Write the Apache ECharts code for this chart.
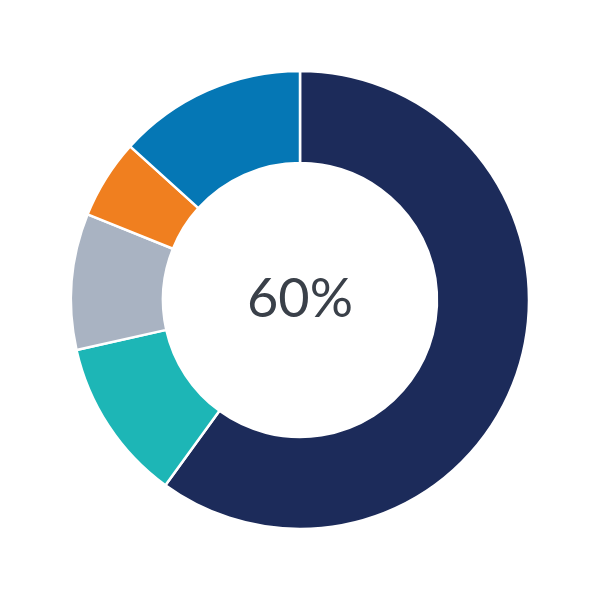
<!DOCTYPE html>
<html><head><meta charset="utf-8">
<script src="https://cdn.jsdelivr.net/npm/echarts@6/dist/echarts.min.js"></script>
<style>html,body{margin:0;padding:0;background:#fff}#c{width:600px;height:600px}</style>
</head><body><div id="c"></div>
<script>
const categories = ['A', 'B', 'C', 'D', 'E'];
const values = [60, 11.5, 9.6, 5.6, 13.3];
const colors = ['#1c2b5a', '#1db6b6', '#a9b3c2', '#f07f1f', '#0577b5'];
const centerLabel = '60%';

const chart = echarts.init(document.getElementById('c'), null, {renderer: 'canvas'});
chart.setOption({
  animation: false,
  title: {
    text: centerLabel, left: 'center', top: 'middle',
    textStyle: {fontFamily: 'Lato', fontSize: 54, fontWeight: 'normal', color: '#3a4049'}
  },
  series: [{
    type: 'pie',
    center: [300, 300],
    radius: [137, 229],
    startAngle: 90,
    clockwise: true,
    label: {show: false},
    labelLine: {show: false},
    emphasis: {disabled: true},
    itemStyle: {borderColor: '#fff', borderWidth: 2.5},
    data: categories.map((c, i) => ({name: c, value: values[i], itemStyle: {color: colors[i]}}))
  }]
});
</script></body></html>
